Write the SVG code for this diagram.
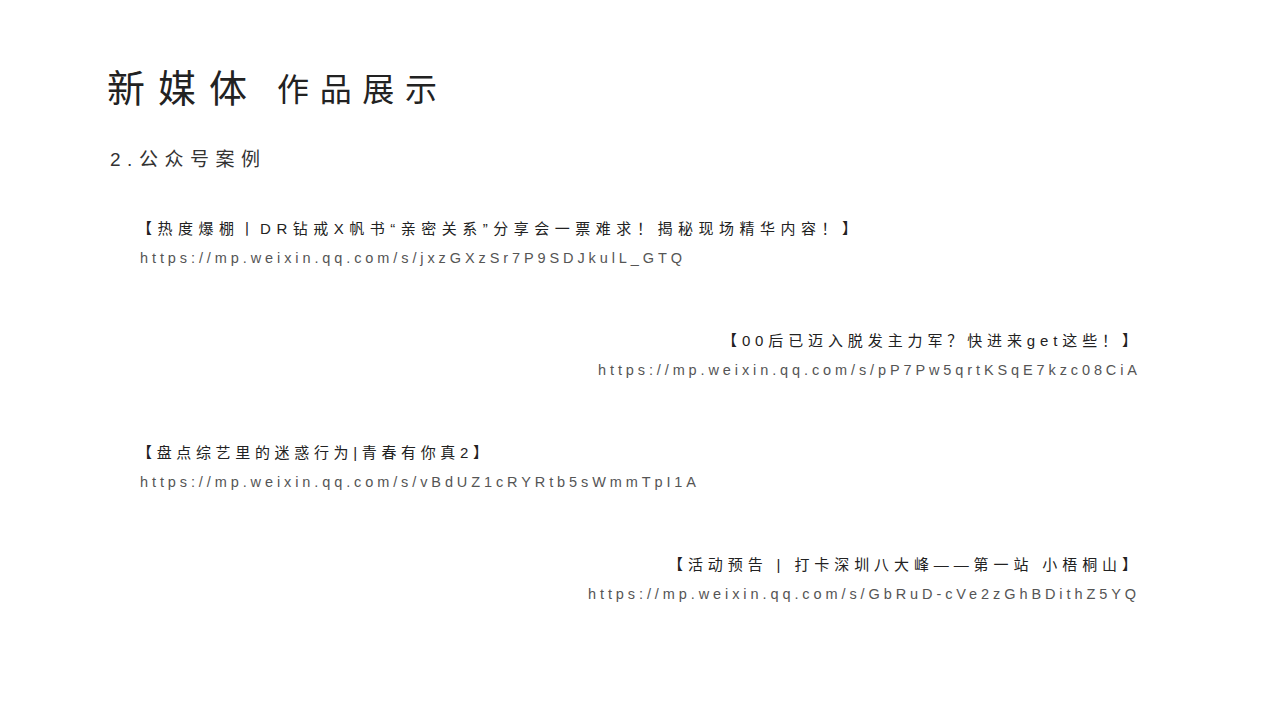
<svg xmlns="http://www.w3.org/2000/svg" width="1280" height="720" viewBox="0 0 1280 720">
<style>
text{font-family:"Liberation Sans","Noto Sans CJK SC",sans-serif;}
.h{fill:#222;font-size:15px;}
.u{fill:#555;font-size:14.5px;}
</style>
<rect width="1280" height="720" fill="#fff"/>
<g id="header">
<text x="107" y="102" font-size="38" fill="#222" textLength="140" lengthAdjust="spacing">新媒体</text>
<text x="277" y="101" font-size="32" fill="#222" textLength="160" lengthAdjust="spacing">作品展示</text>
<text x="110" y="166" font-size="19" fill="#333" textLength="150" lengthAdjust="spacing">2.公众号案例</text>
</g>
<g id="item1">
<text class="h" x="137" y="234" textLength="720" lengthAdjust="spacing">【热度爆棚丨DR钻戒X帆书“亲密关系”分享会一票难求！揭秘现场精华内容！】</text>
<text class="u" x="140" y="263" textLength="542" lengthAdjust="spacing">https://mp.weixin.qq.com/s/jxzGXzSr7P9SDJkulL_GTQ</text>
</g>
<g id="item2">
<text class="h" x="722" y="346" textLength="415" lengthAdjust="spacing">【00后已迈入脱发主力军？快进来get这些！】</text>
<text class="u" x="598" y="375" textLength="539" lengthAdjust="spacing">https://mp.weixin.qq.com/s/pP7Pw5qrtKSqE7kzc08CiA</text>
</g>
<g id="item3">
<text class="h" x="137" y="458" textLength="351" lengthAdjust="spacing">【盘点综艺里的迷惑行为|青春有你真2】</text>
<text class="u" x="140" y="487" textLength="556" lengthAdjust="spacing">https://mp.weixin.qq.com/s/vBdUZ1cRYRtb5sWmmTpI1A</text>
</g>
<g id="item4">
<text class="h" x="668" y="570" textLength="469" lengthAdjust="spacing">【活动预告 | 打卡深圳八大峰——第一站 小梧桐山】</text>
<text class="u" x="588" y="599" textLength="548" lengthAdjust="spacing">https://mp.weixin.qq.com/s/GbRuD-cVe2zGhBDithZ5YQ</text>
</g>
<g id="connectors"/>
</svg>
